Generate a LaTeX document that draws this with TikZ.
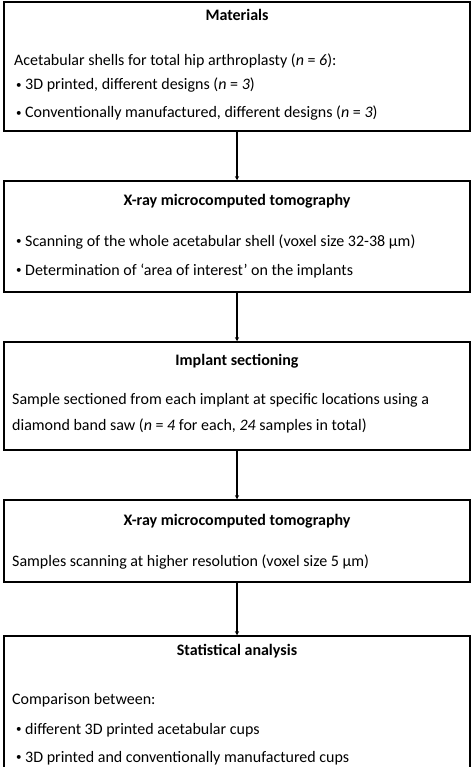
\documentclass[tikz,border=0pt]{standalone}
\usepackage{fontspec}
\setmainfont{Carlito}
\usetikzlibrary{arrows.meta}
\newcommand{\cbul}{\makebox[10pt][l]{\hspace{1pt}\raisebox{1.4pt}{\fontsize{11}{11}\selectfont•}}}
\tikzset{
  fx/.style={x=1pt, y=-1pt, font=\fontsize{16}{19}\selectfont},
  c box/.style={draw, line width=1.5pt, minimum width=466pt, inner sep=0pt},
  c title/.style={font=\fontsize{16}{19}\selectfont\bfseries, anchor=base, inner sep=0pt},
  c line/.style={anchor=base west, inner sep=0pt},
  c arr/.style={-{Stealth[length=4pt, width=4pt]}, line width=1.1pt},
}
\begin{document}
\begin{tikzpicture}[fx]
\useasboundingbox (0,0) rectangle (474,767);
% ---- boxes ----
\node[c box, minimum height=129pt] (b1) at (237,66.5) {};
\node[c box, minimum height=111pt] (b2) at (237,236.5) {};
\node[c box, minimum height=108pt] (b3) at (237,396) {};
\node[c box, minimum height=82pt] (b4) at (237,541) {};
\node[c box, minimum height=140pt] (b5) at (237,706) {};
% ---- materials ----
\node[c title] (t1) at (237,20.7) {Materials};
\node[c line] (l1a) at (14,66) {Acetabular shells for total hip arthroplasty (\textit{n} = \textit{6}):};
\node[c line] (l1b) at (15,90) {\cbul 3D printed, different designs (\textit{n} = \textit{3})};
\node[c line] (l1c) at (15,118) {\cbul Conventionally manufactured, different designs (\textit{n} = \textit{3})};
% ---- micro-CT ----
\node[c title] (t2) at (237,206) {X-ray microcomputed tomography};
\node[c line] (l2a) at (15,246) {\cbul Scanning of the whole acetabular shell (voxel size 32-38 µm)};
\node[c line] (l2b) at (15,275) {\cbul Determination of ‘area of interest’ on the implants};
% ---- sectioning ----
\node[c title] (t3) at (237,365) {Implant sectioning};
\node[c line] (l3a) at (12,404) {Sample sectioned from each implant at specific locations using a};
\node[c line] (l3b) at (12,430.7) {diamond band saw (\textit{n} = \textit{4} for each, \textit{24} samples in total)};
% ---- micro-CT, high res ----
\node[c title] (t4) at (237,525) {X-ray microcomputed tomography};
\node[c line] (l4a) at (12,566) {Samples scanning at higher resolution (voxel size 5 µm)};
% ---- statistics ----
\node[c title] (t5) at (237,655) {Statistical analysis};
\node[c line] (l5a) at (12,704) {Comparison between:};
\node[c line] (l5b) at (15,734) {\cbul different 3D printed acetabular cups};
\node[c line] (l5c) at (15,762) {\cbul 3D printed and conventionally manufactured cups};
% ---- flow ----
\draw[c arr] (b1.south) -- (b2.north);
\draw[c arr] (b2.south) -- (b3.north);
\draw[c arr] (b3.south) -- (b4.north);
\draw[c arr] (b4.south) -- (b5.north);
\end{tikzpicture}
\end{document}
